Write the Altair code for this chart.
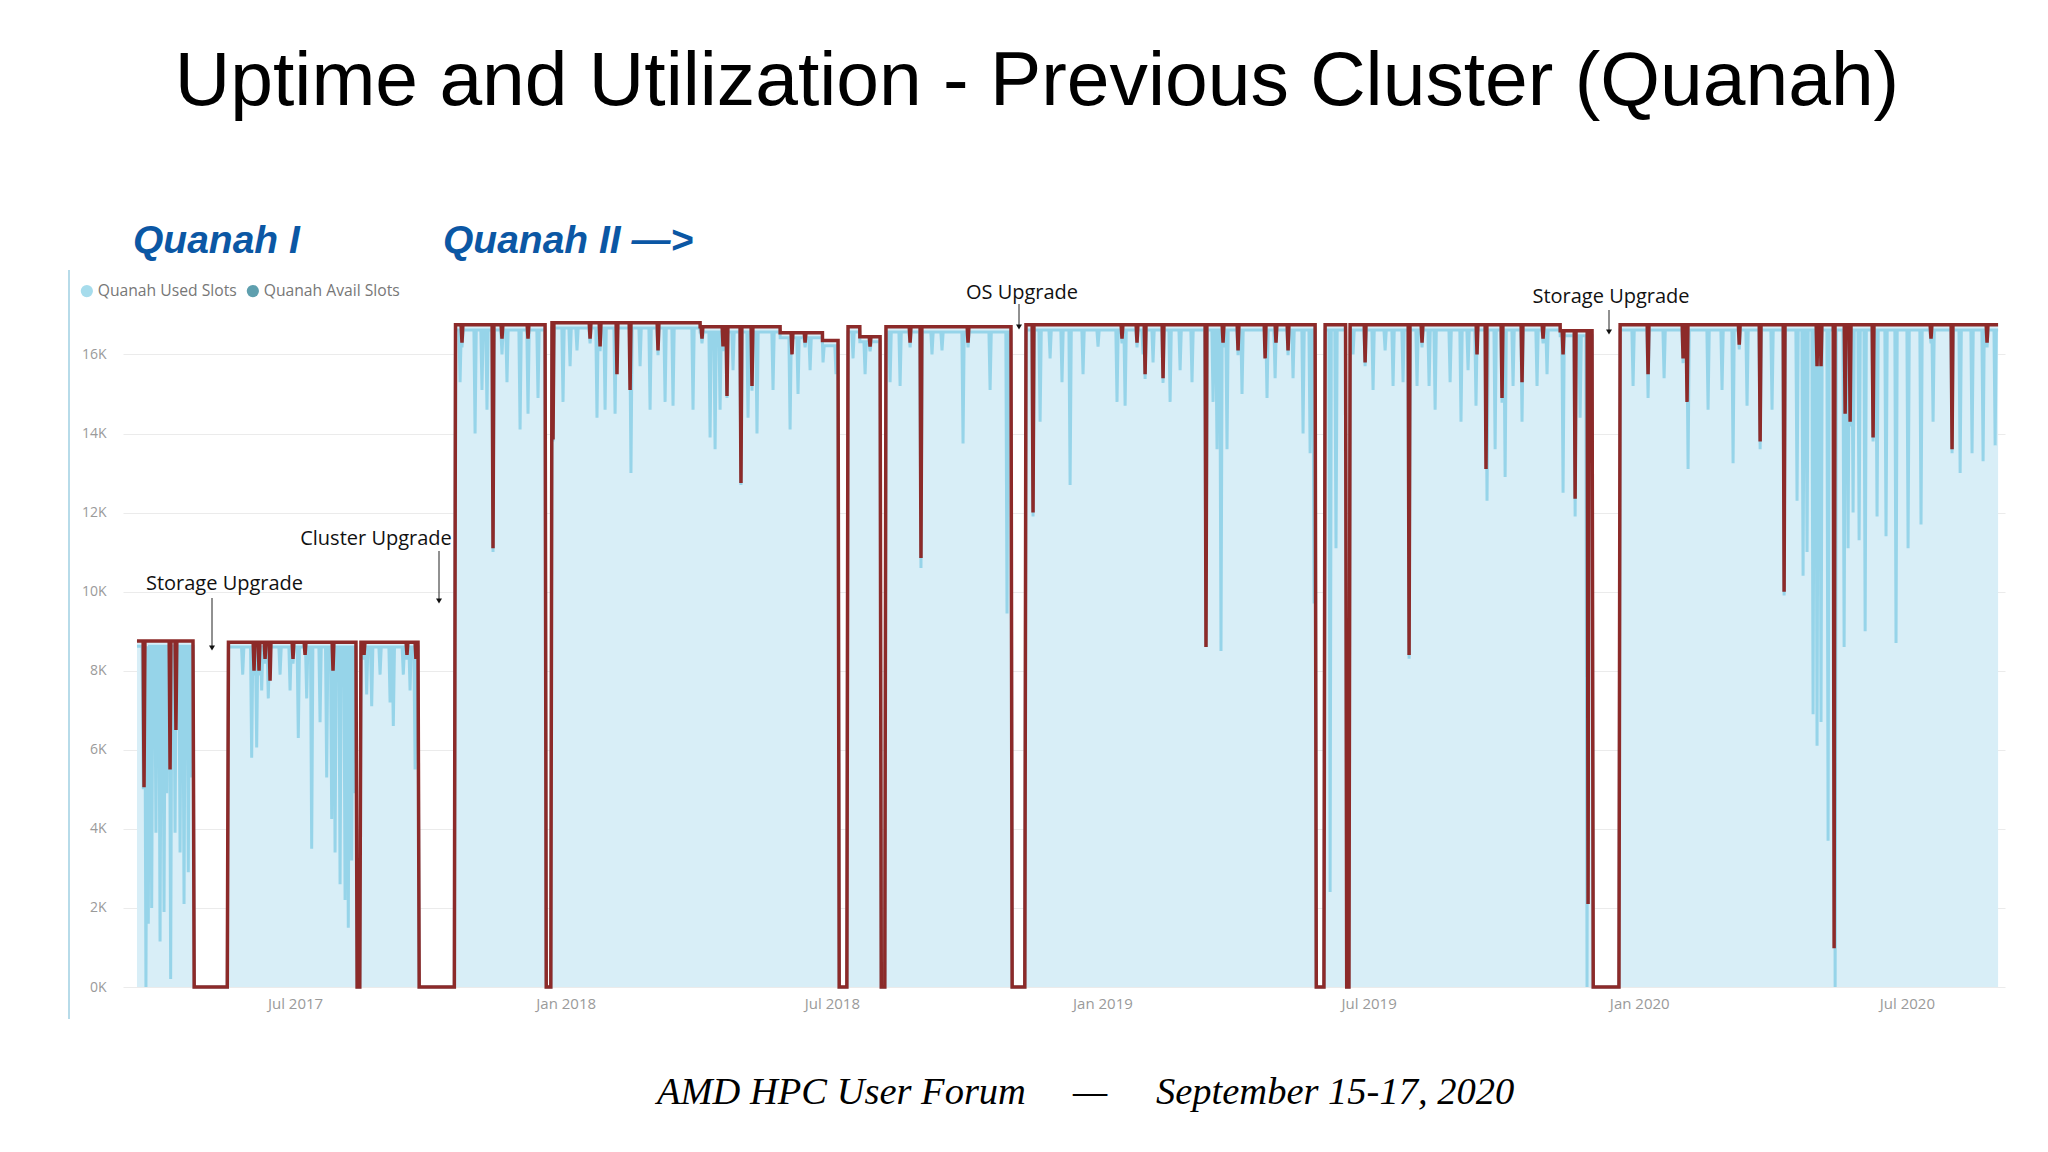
import altair as alt
import pandas as pd

BASE = pd.Timestamp("2017-03-01")  # day 0 of the day counts below

# ---- uptime periods (days since BASE) and their typical levels (thousand slots)
seg_start = [14.5, 76.7, 166.8, 231.1, 296.7, 397.4, 451.8, 480.6, 498.0, 506.0,
             523.8, 619.0, 822.4, 839.4, 982.2, 1023.0]
seg_end = [52.6, 163.4, 205.6, 292.0, 397.4, 451.8, 480.6, 491.2, 506.0, 519.8,
           608.8, 815.6, 836.3, 982.2, 1003.9, 1280.0]
avail_top = [8.75, 8.72, 8.72, 16.75, 16.8, 16.7, 16.55, 16.35, 16.7, 16.45,
             16.7, 16.75, 16.75, 16.75, 16.6, 16.75]
used_top = [8.62, 8.6, 8.6, 16.62, 16.67, 16.57, 16.42, 16.22, 16.57, 16.32,
            16.57, 16.62, 16.62, 16.62, 16.47, 16.62]

# ---- dips of the available slots (day, thousand slots)
avail_dip_day = [19.3, 37.0, 41.0, 94.1, 97.5, 101.6, 105.0, 120.6, 128.8, 147.8, 168.9, 198.1, 204.2,
                 235.5, 256.6, 262.7, 280.4, 297.4, 322.6, 329.4, 340.9, 349.8, 368.8, 398.7, 413.0,
                 415.7, 425.2, 432.7, 459.9, 468.8, 513.0, 540.2, 547.6, 579.6, 623.8, 684.3, 694.5,
                 700.0, 712.2, 741.4, 753.0, 763.2, 781.6, 789.0, 797.2, 849.6, 879.5, 888.3, 925.7,
                 931.8, 942.7, 956.3, 970.6, 984.2, 992.4, 1001.2, 1042.0, 1065.8, 1068.5, 1104.0,
                 1118.2, 1134.5, 1156.9, 1159.6, 1168.5, 1176.0, 1179.4, 1195.0, 1234.4, 1248.7, 1272.5]
avail_dip_k = [5.05, 5.5, 6.5, 8.0, 8.0, 8.3, 7.75, 8.3, 8.4, 8.0, 8.4, 8.4, 8.3,
               16.3, 11.1, 16.4, 16.4, 13.85, 16.4, 16.2, 15.5, 15.1, 16.1, 16.4, 16.2,
               14.95, 12.75, 15.2, 16.0, 16.3, 16.2, 16.3, 10.85, 16.3, 12.0, 16.4, 16.3,
               15.5, 15.4, 8.6, 16.3, 16.1, 15.9, 16.3, 16.1, 15.8, 8.4, 16.3, 16.0,
               13.1, 14.9, 15.3, 16.4, 16.0, 12.35, 2.1, 15.5, 15.9, 14.8, 16.25,
               13.8, 10.0, 15.7, 15.7, 0.98, 14.5, 14.3, 13.9, 16.4, 13.6, 16.3]

# ---- dips of the used slots (day, thousand slots)
used_dip_day = [18.8, 20.6, 22.2, 24.5, 27.4, 30.2, 32.9, 34.7, 37.4, 40.4, 43.8, 46.5, 49.4, 51.7,
                86.4, 92.5, 95.9, 99.3, 103.8, 111.8, 118.6, 124.2, 129.9, 133.3, 139.0, 143.5, 146.9,
                149.2, 152.6, 156.0, 158.2, 160.5, 162.8,
                170.7, 174.1, 179.8, 186.6, 188.8, 195.6, 200.2, 203.6,
                234.2, 244.4, 249.1, 252.5, 256.6, 262.7, 266.1, 275.0, 280.4, 287.2,
                297.4, 304.2, 309.0, 313.7, 327.3, 332.8, 339.6, 350.4, 356.6, 363.4, 373.6, 379.0, 392.6,
                404.2, 407.6, 411.0, 415.7, 419.8, 425.2, 430.0, 436.1, 447.0,
                458.6, 464.0, 472.2, 481.0, 489.8,
                501.4, 509.6, 526.6, 533.4, 547.6, 555.1, 561.9, 576.2, 594.6, 606.1,
                623.8, 628.6, 635.4, 643.5, 649.0, 657.8, 668.0, 680.9, 686.4, 698.6, 705.4, 717.0,
                723.8, 731.9, 741.4, 746.2, 748.9, 751.6, 755.7, 765.9, 782.9, 788.4, 800.6, 807.4,
                812.2, 814.9, 825.8, 829.8,
                841.4, 849.6, 855.0, 863.2, 868.6, 875.4, 879.5, 884.9, 893.1, 897.2, 907.4, 914.8,
                919.6, 925.0, 932.5, 938.0, 944.8, 950.2, 956.3, 966.5, 973.3,
                984.2, 992.4, 995.8, 1000.5,
                1031.8, 1042.0, 1052.9, 1069.2, 1082.8, 1092.3, 1099.8, 1109.3, 1118.2, 1126.3, 1134.5,
                1143.3, 1147.4, 1150.1, 1154.2, 1156.9, 1159.6, 1164.4, 1169.2, 1175.3, 1178.0, 1181.4,
                1185.5, 1189.6, 1195.0, 1197.7, 1203.8, 1210.6, 1218.8, 1227.6, 1235.8, 1248.7, 1254.2,
                1262.3, 1269.8, 1278.0]
used_dip_k = [5.0, 0.0, 1.6, 2.0, 3.9, 1.15, 1.9, 4.9, 0.2, 3.9, 3.4, 2.1, 2.9, 5.3,
              7.9, 5.8, 6.06, 7.5, 7.3, 7.9, 7.5, 6.3, 7.3, 3.5, 6.7, 5.3, 4.25,
              3.4, 2.6, 2.2, 1.5, 3.2, 4.9,
              7.4, 7.1, 7.9, 7.2, 6.6, 7.9, 7.5, 5.5,
              15.3, 14.0, 15.1, 14.6, 11.0, 16.0, 15.3, 14.1, 14.5, 14.9,
              13.8, 14.8, 15.7, 16.1, 14.4, 14.6, 14.5, 13.0, 15.7, 14.6, 14.8, 14.7, 14.6,
              13.9, 13.6, 14.6, 14.9, 15.6, 12.7, 14.4, 14.0, 15.1,
              14.1, 15.0, 15.6, 15.8, 15.5,
              15.9, 15.5, 15.3, 15.2, 10.6, 16.0, 16.1, 13.75, 15.1, 9.45,
              11.9, 14.3, 15.9, 15.3, 12.7, 15.5, 16.2, 14.8, 14.7, 16.0, 15.8, 14.8,
              15.6, 15.3, 8.6, 14.8, 13.6, 8.5, 13.6, 15.0, 14.9, 15.4, 15.4, 14.0,
              13.5, 9.7, 2.4, 11.1,
              16.0, 15.7, 15.1, 16.1, 15.2, 15.3, 8.3, 15.2, 15.2, 14.6, 15.3, 14.3,
              15.6, 14.7, 12.3, 13.6, 12.9, 15.2, 14.3, 15.2, 15.5,
              12.5, 11.9, 14.4, 0.0,
              15.2, 14.9, 15.4, 13.1, 14.6, 15.1, 13.25, 14.7, 13.6, 14.6, 9.9,
              12.3, 10.4, 11.0, 6.9, 6.1, 6.7, 3.7, 0.0, 8.6, 11.1, 12.0,
              11.3, 9.0, 13.8, 11.9, 11.4, 8.7, 11.1, 11.7, 14.3, 13.5, 13.0,
              13.5, 13.3, 13.7]

SERIES = ["Quanah Used Slots", "Quanah Avail Slots"]
X_TICKS = [(2017, 7), (2018, 1), (2018, 7), (2019, 1), (2019, 7), (2020, 1), (2020, 7)]
Y_TICKS = [0, 2, 4, 6, 8, 10, 12, 14, 16]

# used slots can never exceed available slots: follow the red dips as well
for d, v in list(zip(avail_dip_day, avail_dip_k)):
    i = next(j for j in range(len(seg_start)) if seg_start[j] < d < seg_end[j])
    if v < used_top[i] and all(abs(d - u) > 1.3 for u in used_dip_day):
        used_dip_day.append(d)
        used_dip_k.append(v - 0.12)


def build(tops, dip_day, dip_k, series, half):
    pts = []
    dips = sorted(zip(dip_day, dip_k))
    for i in range(len(seg_start)):
        s, e, top = seg_start[i], seg_end[i], tops[i]
        if i > 0:
            pe = seg_end[i - 1]
            if s - pe > 1e-6:
                g = min(0.8, (s - pe) / 3)
                pts += [(pe + g, 0.0), (s - g, 0.0)]
            else:
                s = s + 0.05
        pts.append((s, top))
        for d, v in dips:
            if s < d < e:
                pts += [(max(s + 0.01, d - half), top), (d, v), (min(e - 0.01, d + half), top)]
        pts.append((e, top))
    df = pd.DataFrame(pts, columns=["day", "k"])
    df["date"] = BASE + pd.to_timedelta(df["day"], unit="D")
    df["series"] = series
    df["ord"] = range(len(df))
    return df[["date", "k", "series", "ord"]]


avail_df = build(avail_top, avail_dip_day, avail_dip_k, SERIES[1], 0.6)
used_df = build(used_top, used_dip_day, used_dip_k, SERIES[0], 0.8)
legend_df = pd.DataFrame({"series": SERIES,
                          "date": [BASE + pd.Timedelta(days=400)] * 2,
                          "k": [-5.0, -5.0]})

W, H = 1882, 680
x_scale = alt.Scale(domain=[alt.DateTime(year=2017, month=3, date=6),
                            alt.DateTime(year=2020, month=9, date=5, hours=16, minutes=48)])
y_scale = alt.Scale(domain=[0, 17.2], nice=False)

x_enc = alt.X("date:T", scale=x_scale,
              axis=alt.Axis(values=[alt.DateTime(year=y, month=m, date=1) for y, m in X_TICKS],
                            format="%b %Y", title=None, grid=False, domain=False, ticks=False,
                            labelFont="Open Sans", labelFontSize=15, labelColor="#9a9a9a",
                            labelPadding=9, labelFlush=False))
y_enc = alt.Y("k:Q", scale=y_scale, stack=None,
              axis=alt.Axis(values=Y_TICKS, labelExpr="datum.value + 'K'", title=None,
                            domain=False, ticks=False, grid=True, gridColor="#ebebeb",
                            labelFont="Open Sans", labelFontSize=14, labelColor="#9a9a9a",
                            labelPadding=17))
x_plain = alt.X("date:T", scale=x_scale)
y_plain = alt.Y("k:Q", scale=y_scale, stack=None)

area = alt.Chart(avail_df).mark_area(color="#d8eef7", opacity=1, interpolate="linear").encode(
    x=x_enc, y=y_enc)

used_line = alt.Chart(used_df).mark_line(color="#96d4e9", strokeWidth=3.0,
                                         interpolate="linear").encode(
    x=x_plain, y=y_plain, order="ord:Q")

avail_line = alt.Chart(avail_df).mark_line(color="#8c2a29", strokeWidth=3.5,
                                           interpolate="linear").encode(
    x=x_plain, y=y_plain, order="ord:Q")

# legend carrier: points outside the value range, clipped away; only the legend shows
legend_layer = alt.Chart(legend_df).mark_circle(clip=True, size=140, opacity=1).encode(
    x=x_plain, y=y_plain,
    color=alt.Color("series:N",
                    scale=alt.Scale(domain=SERIES, range=["#a6dcec", "#5e9fae"]),
                    legend=alt.Legend(title=None, orient="none", direction="horizontal",
                                      legendX=-44, legendY=-24, padding=0,
                                      symbolType="circle", symbolSize=150,
                                      symbolStrokeWidth=0, symbolOpacity=1,
                                      labelOffset=3, columnPadding=8,
                                      labelFont="Open Sans", labelFontSize=15.7,
                                      labelColor="#777777")))

one = pd.DataFrame({"n": [0]})


def text(t, x, y, **kw):
    return alt.Chart(one).mark_text(text=t, **kw).encode(x=alt.value(x), y=alt.value(y))


layers = [area, used_line, avail_line, legend_layer]

# page texts
layers.append(text("Uptime and Utilization - Previous Cluster (Quanah)", 914, -202.5,
                   font="Liberation Sans", fontSize=76.8, align="center",
                   baseline="alphabetic", color="#000000"))
layers.append(text("Quanah I", 10, -54, font="Liberation Sans", fontSize=39,
                   fontWeight="bold", fontStyle="italic", align="left",
                   baseline="alphabetic", color="#0b57a4"))
layers.append(text("Quanah II \u2014>", 320, -54, font="Liberation Sans", fontSize=39,
                   fontWeight="bold", fontStyle="italic", align="left",
                   baseline="alphabetic", color="#0b57a4"))
layers.append(text("AMD HPC User Forum", 534, 797, font="Liberation Serif", fontSize=38.5,
                   fontStyle="italic", align="left", baseline="alphabetic", color="#000000"))
layers.append(text("\u2014", 967, 797, font="Liberation Serif", fontSize=38.5,
                   fontStyle="italic", align="center", baseline="alphabetic", color="#000000"))
layers.append(text("September 15-17, 2020", 1033, 797, font="Liberation Serif", fontSize=38.5,
                   fontStyle="italic", align="left", baseline="alphabetic", color="#000000"))

# event annotations: label, label x, label y, arrow x, arrow top, arrow tip
notes = [("Storage Upgrade", 101.5, 277, 89, 291, 344),
         ("Cluster Upgrade", 253, 232, 316, 244, 297),
         ("OS Upgrade", 899, -14, 896, -3, 23),
         ("Storage Upgrade", 1488, -10, 1486, 3, 28)]
for lab, tx, ty, ax, a1, a2 in notes:
    layers.append(text(lab, tx, ty, font="Open Sans", fontSize=20, align="center",
                       baseline="middle", color="#111111"))
    layers.append(alt.Chart(one).mark_rule(color="#222222", strokeWidth=1).encode(
        x=alt.value(ax), y=alt.value(a1), y2=alt.value(a2 - 5)))
    layers.append(alt.Chart(one).mark_point(shape="triangle-down", filled=True, size=36,
                                            color="#111111", opacity=1).encode(
        x=alt.value(ax), y=alt.value(a2 - 3)))

# report visual border on the left
layers.append(alt.Chart(one).mark_rule(color="#b7dbe9", strokeWidth=2).encode(
    x=alt.value(-54), y=alt.value(-37), y2=alt.value(712)))

chart = alt.layer(*layers).properties(
    width=W, height=H,
    autosize=alt.AutoSizeParams(type="none"),
    padding={"left": 115, "top": 299, "right": 35, "bottom": 150},
    background="#ffffff",
).configure_view(stroke=None)

chart.save("out.html", embed_options={"renderer": "svg", "actions": False})
